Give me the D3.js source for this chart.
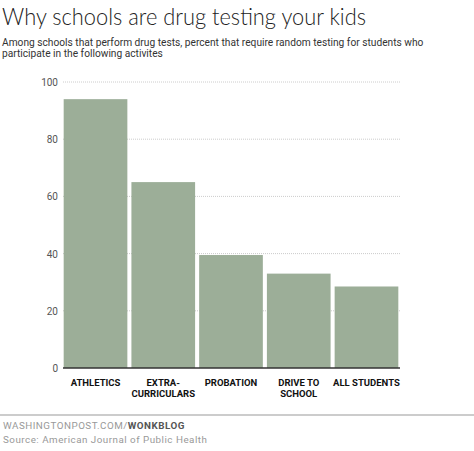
<!DOCTYPE html>
<html><head><meta charset="utf-8">
<script src="https://cdn.jsdelivr.net/npm/d3@7"></script>
<style>body{margin:0;background:#fff}</style>
</head><body><svg id="chart" width="474" height="451"></svg>
<script>
const categories = [["ATHLETICS"], ["EXTRA-", "CURRICULARS"], ["PROBATION"], ["DRIVE TO", "SCHOOL"], ["ALL STUDENTS"]];
const values = [94, 65, 39.5, 33, 28.5];
const yTicks = [0, 20, 40, 60, 80, 100];

const svg = d3.select('#chart');
const x = d3.scaleBand().domain(d3.range(values.length)).range([63, 399]).paddingInner(0.06).paddingOuter(0.01);
const y = d3.scaleLinear().domain([0, 100]).range([368, 82]);

svg.append('text').attr('x', 2).attr('y', 25).attr('font-family', 'Lato, sans-serif').attr('font-weight', 300)
  .attr('font-size', 24).attr('fill', '#222').attr('textLength', 364).attr('lengthAdjust', 'spacingAndGlyphs')
  .text('Why schools are drug testing your kids');
svg.append('text').attr('x', 2).attr('y', 46).attr('font-family', 'Roboto, sans-serif').attr('font-size', 10.2).attr('fill', '#333')
  .text('Among schools that perform drug tests, percent that require random testing for students who');
svg.append('text').attr('x', 2).attr('y', 57).attr('font-family', 'Roboto, sans-serif').attr('font-size', 10.2).attr('fill', '#333')
  .text('participate in the following activites');

// gridlines
svg.selectAll('.grid').data(yTicks.slice(1)).enter().append('line')
  .attr('x1', 63).attr('x2', 400).attr('y1', d => y(d)).attr('y2', d => y(d))
  .attr('stroke', '#ccc').attr('stroke-dasharray', '1,1');
svg.selectAll('.ytl').data(yTicks).enter().append('text')
  .attr('x', 58).attr('y', d => y(d) + 4).attr('text-anchor', 'end')
  .attr('font-family', 'Roboto, sans-serif').attr('font-size', 10).attr('fill', '#555').text(d => d);

svg.selectAll('.bar').data(values).enter().append('rect')
  .attr('x', (d, i) => x(i)).attr('width', x.bandwidth())
  .attr('y', d => y(d)).attr('height', d => y(0) - y(d)).attr('fill', '#9cae98');

svg.append('line').attr('x1', 63).attr('x2', 400).attr('y1', y(0)).attr('y2', y(0)).attr('stroke', '#333').attr('stroke-width', 1.5);

categories.forEach((lines, i) => {
  const t = svg.append('text').attr('x', x(i) + x.bandwidth() / 2).attr('y', 386).attr('text-anchor', 'middle')
    .attr('font-family', 'Roboto, sans-serif').attr('font-weight', 'bold').attr('font-size', 9.5).attr('fill', '#111');
  lines.forEach((l, j) => t.append('tspan').attr('x', x(i) + x.bandwidth() / 2).attr('dy', j ? 11 : 0).text(l));
});

svg.append('line').attr('x1', 0).attr('x2', 474).attr('y1', 415).attr('y2', 415).attr('stroke', '#999');
const f = svg.append('text').attr('x', 3).attr('y', 429).attr('font-family', 'Roboto, sans-serif').attr('font-size', 9.8).attr('fill', '#999').attr('letter-spacing', 0.5);
f.append('tspan').text('WASHINGTONPOST.COM/');
f.append('tspan').attr('font-weight', 'bold').attr('fill', '#555').text('WONKBLOG');
svg.append('text').attr('x', 3).attr('y', 443).attr('font-family', 'Roboto, sans-serif').attr('font-size', 9.8).attr('fill', '#999').attr('letter-spacing', 0.5)
  .text('Source: American Journal of Public Health');
</script></body></html>
